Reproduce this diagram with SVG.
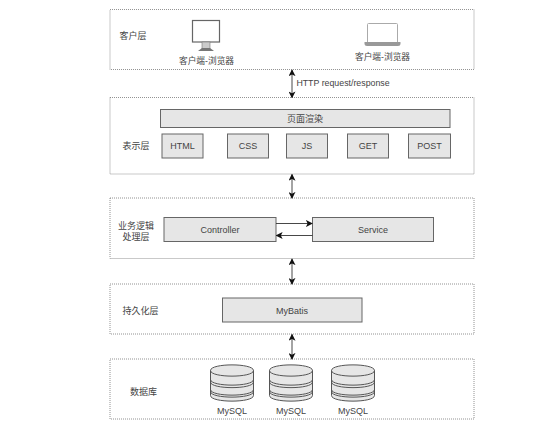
<svg xmlns="http://www.w3.org/2000/svg" width="559" height="428" viewBox="0 0 559 428">
<style>
text{font-family:"Liberation Sans","Noto Sans CJK SC",sans-serif;font-size:9px;fill:#444;text-anchor:middle}
.small{font-size:8.700px}
.http{font-size:8.800px}
.layer{fill:#fff;stroke:#777;stroke-width:.8;stroke-dasharray:1 1}
.box{fill:#e6e6e6;stroke:#666;stroke-width:1}
.con{fill:none;stroke:#333;stroke-width:.9}
.db{fill:#e6e6e6;stroke:#555;stroke-width:1}
.dbl{fill:none;stroke:#555;stroke-width:1}
</style>
<defs>
<marker id="a" viewBox="0 0 8 8" refX="7" refY="4" markerWidth="7" markerHeight="7" markerUnits="userSpaceOnUse" orient="auto-start-reverse"><path d="M0 0L8 4L0 8L2 4Z" fill="#111"/></marker>
<g id="cyl">
<path class="db" d="M0 6C0 -1.500 43 -1.500 43 6V31C43 38.500 0 38.500 0 31Z"/>
<path class="dbl" d="M0 6C0 13.500 43 13.500 43 6M0 15C0 22.500 43 22.500 43 15M0 17.500C0 25 43 25 43 17.500M0 25C0 32.500 43 32.500 43 25M0 27C0 34.500 43 34.500 43 27"/>
</g>
</defs>
<rect width="559" height="428" fill="#fff"/>
<g id="layer-client">
<rect class="layer" x="110" y="9.500" width="364" height="60"/>
<text x="133" y="39">客户层</text>
<g id="monitor">
<rect x="192.500" y="20.500" width="27" height="21.500" fill="#fff" stroke="#666" stroke-width="1.200"/>
<rect x="202" y="42" width="8" height="7" fill="#ccc" stroke="#777" stroke-width=".6"/>
<path d="M198 51L202 48H210L214 51Z" fill="#777"/>
</g>
<text class="small" x="206.500" y="64">客户端-浏览器</text>
<g id="laptop">
<path d="M367.500 42V24.500Q367.500 23.500 368.500 23.500H396.500Q397.500 23.500 397.500 24.500V42" fill="#fff" stroke="#aaa" stroke-width="1"/>
<path d="M364.500 42H400.500V44Q400.500 46 398 46H367Q364.500 46 364.500 44Z" fill="#999"/>
</g>
<text class="small" x="382.500" y="60">客户端-浏览器</text>
</g>
<g id="layer-presentation">
<rect class="layer" x="110" y="97.500" width="364" height="76.500"/>
<text x="136" y="149">表示层</text>
<g id="render"><rect class="box" x="160.500" y="109.500" width="289.500" height="18"/><text x="305" y="121.500">页面渲染</text></g>
<g id="html"><rect class="box" x="162" y="134" width="41" height="24"/><text x="182.500" y="149">HTML</text></g>
<g id="css"><rect class="box" x="227.500" y="134" width="41" height="24"/><text x="248" y="149">CSS</text></g>
<g id="js"><rect class="box" x="286.500" y="134" width="41" height="24"/><text x="307" y="149">JS</text></g>
<g id="get"><rect class="box" x="347.500" y="134" width="41" height="24"/><text x="368" y="149">GET</text></g>
<g id="post"><rect class="box" x="408.500" y="134" width="42" height="24"/><text x="429.500" y="149">POST</text></g>
</g>
<g id="layer-logic">
<rect class="layer" x="110" y="198" width="364" height="60.500"/>
<text x="136" y="229">业务逻辑</text>
<text x="136" y="240">处理层</text>
<g id="controller"><rect class="box" x="164" y="217.500" width="112" height="24"/><text x="220" y="233">Controller</text></g>
<g id="service"><rect class="box" x="312.500" y="217.500" width="121" height="24"/><text x="373" y="233">Service</text></g>
</g>
<g id="layer-persistence">
<rect class="layer" x="110" y="284" width="364" height="50"/>
<text x="140.500" y="314">持久化层</text>
<g id="mybatis"><rect class="box" x="222.500" y="298" width="139.500" height="24"/><text x="292" y="314">MyBatis</text></g>
</g>
<g id="layer-database">
<rect class="layer" x="110" y="359" width="364" height="60"/>
<text x="143.500" y="395">数据库</text>
<g id="db1"><use href="#cyl" x="210.500" y="364.500"/><text x="232" y="414">MySQL</text></g>
<g id="db2"><use href="#cyl" x="269.500" y="364.500"/><text x="291" y="414">MySQL</text></g>
<g id="db3"><use href="#cyl" x="331.500" y="364.500"/><text x="353" y="414">MySQL</text></g>
</g>
<g id="connectors">
<line class="con" x1="292" y1="70" x2="292" y2="97.500" marker-start="url(#a)" marker-end="url(#a)"/>
<line class="con" x1="292" y1="174.500" x2="292" y2="198" marker-start="url(#a)" marker-end="url(#a)"/>
<line class="con" x1="292" y1="259" x2="292" y2="284" marker-start="url(#a)" marker-end="url(#a)"/>
<line class="con" x1="292" y1="334.500" x2="292" y2="359" marker-start="url(#a)" marker-end="url(#a)"/>
<line class="con" x1="276" y1="223.500" x2="312" y2="223.500" marker-end="url(#a)"/>
<line class="con" x1="312.500" y1="235.500" x2="276.500" y2="235.500" marker-end="url(#a)"/>
</g>
<text class="http" x="343" y="86">HTTP request/response</text>
</svg>
